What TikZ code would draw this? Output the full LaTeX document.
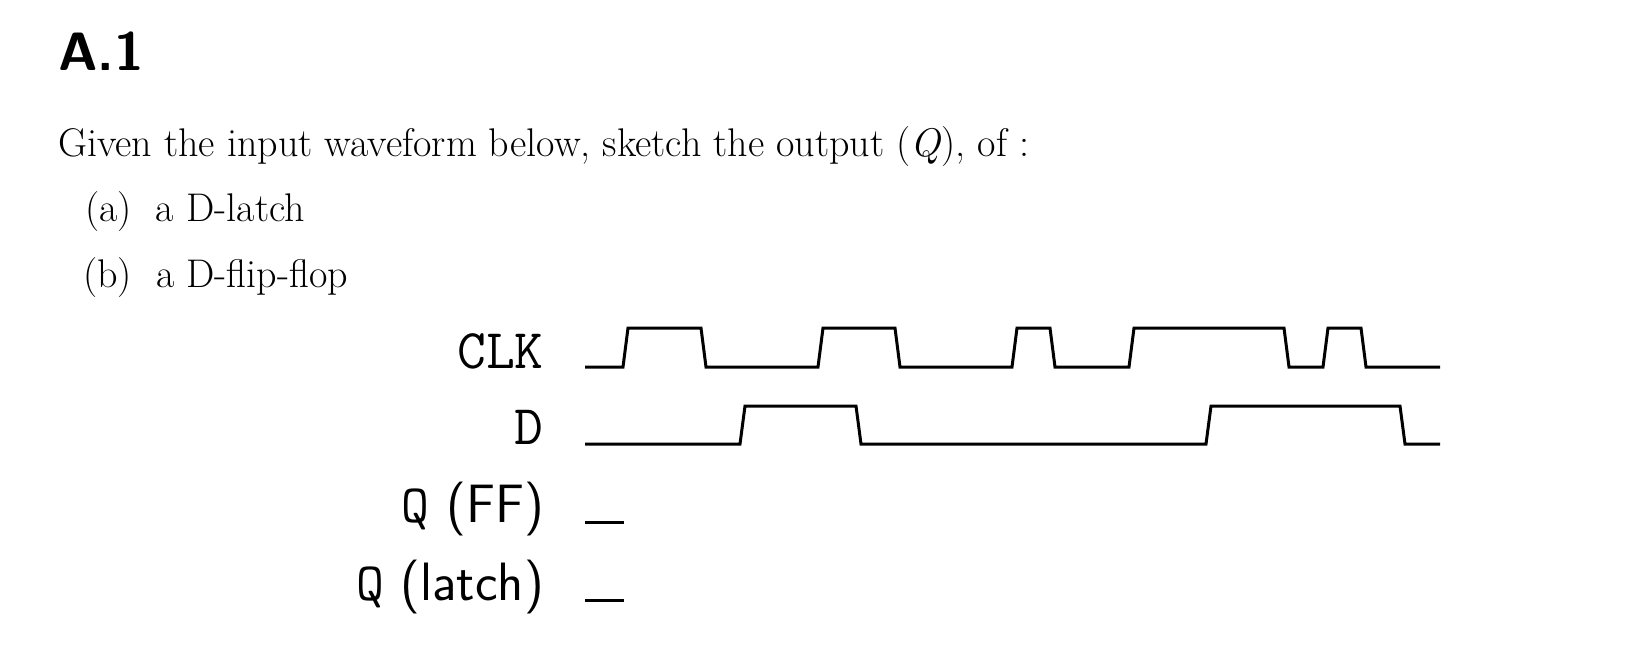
\documentclass[tikz,border=0pt]{standalone}
\usepackage{fontspec}
\begin{document}
\begin{tikzpicture}[x=1pt,y=-1pt,
  wave/.style={line width=3pt,line join=miter},
  lbl/.style={anchor=base east,inner sep=0pt},
  txt/.style={anchor=base west,inner sep=0pt,font=\fontsize{40}{46}\selectfont}]
\node[anchor=base west,inner sep=0pt,font=\fontsize{54}{60}\selectfont\sffamily\bfseries] (title) at (58,70) {A.1};
\node[txt] (intro) at (58,156) {Given the input waveform below, sketch the output (\textit{Q}), of :};
\node[txt] (a) at (85,221) {(a)\hspace{0.3em} a D-latch};
\node[txt] (b) at (83,287) {(b)\hspace{0.3em} a D-flip-flop};
\node[lbl,font=\fontsize{56}{60}\selectfont\ttfamily] (lclk) at (544,368) {CLK};
\node[lbl,font=\fontsize{56}{60}\selectfont\ttfamily] (ld) at (544,444) {D};
\node[lbl,font=\fontsize{54}{60}\selectfont\sffamily] (lq1) at (544,522) {\ttfamily Q\sffamily\ (FF)};
\node[lbl,font=\fontsize{54}{60}\selectfont\sffamily] (lq2) at (544,600) {\ttfamily Q\sffamily\ (latch)};
\draw[wave] (585,367) -- (623,367) -- (628,328) -- (701,328) -- (706,367) -- (818,367) -- (823,328) -- (895,328) -- (900,367) -- (1012,367) -- (1017,328) -- (1050,328) -- (1055,367) -- (1129,367) -- (1134,328) -- (1284,328) -- (1289,367) -- (1323,367) -- (1328,328) -- (1361,328) -- (1366,367) -- (1440,367);
\draw[wave] (585,444) -- (740,444) -- (745,406) -- (856,406) -- (861,444) -- (1206,444) -- (1211,406) -- (1400,406) -- (1405,444) -- (1440,444);
\draw[wave] (585,522) -- (624,522);
\draw[wave] (585,600) -- (624,600);
\pgfresetboundingbox
\useasboundingbox (0,0) rectangle (1628,662);
\end{tikzpicture}
\end{document}
